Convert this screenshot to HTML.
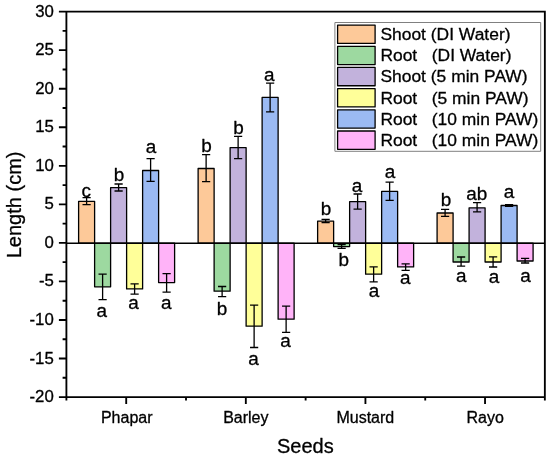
<!DOCTYPE html>
<html><head><meta charset="utf-8"><title>Chart</title>
<style>html,body{margin:0;padding:0;background:#fff}svg{display:block}</style></head>
<body>
<svg width="550" height="459" viewBox="0 0 550 459" font-family="Liberation Sans, sans-serif" fill="#000"><g stroke="#000" stroke-width="0.3" stroke-linejoin="round">
<rect width="550" height="459" fill="#fff" stroke="none"/>
<rect x="78.61" y="201.30" width="16.00" height="41.90" fill="#FDC999" stroke="#000" stroke-width="1.3"/>
<rect x="94.61" y="243.20" width="16.00" height="43.60" fill="#9DD9A0" stroke="#000" stroke-width="1.3"/>
<rect x="110.61" y="187.70" width="16.00" height="55.50" fill="#C2B2DC" stroke="#000" stroke-width="1.3"/>
<rect x="126.61" y="243.20" width="16.00" height="45.70" fill="#FFFF99" stroke="#000" stroke-width="1.3"/>
<rect x="142.61" y="170.50" width="16.00" height="72.70" fill="#9BBAF3" stroke="#000" stroke-width="1.3"/>
<rect x="158.61" y="243.20" width="16.00" height="39.40" fill="#FFB3F8" stroke="#000" stroke-width="1.3"/>
<rect x="198.12" y="168.50" width="16.00" height="74.70" fill="#FDC999" stroke="#000" stroke-width="1.3"/>
<rect x="214.12" y="243.20" width="16.00" height="48.00" fill="#9DD9A0" stroke="#000" stroke-width="1.3"/>
<rect x="230.12" y="147.60" width="16.00" height="95.60" fill="#C2B2DC" stroke="#000" stroke-width="1.3"/>
<rect x="246.12" y="243.20" width="16.00" height="83.00" fill="#FFFF99" stroke="#000" stroke-width="1.3"/>
<rect x="262.12" y="97.40" width="16.00" height="145.80" fill="#9BBAF3" stroke="#000" stroke-width="1.3"/>
<rect x="278.12" y="243.20" width="16.00" height="76.00" fill="#FFB3F8" stroke="#000" stroke-width="1.3"/>
<rect x="317.63" y="221.10" width="16.00" height="22.10" fill="#FDC999" stroke="#000" stroke-width="1.3"/>
<rect x="333.63" y="243.20" width="16.00" height="3.40" fill="#9DD9A0" stroke="#000" stroke-width="1.3"/>
<rect x="349.63" y="201.70" width="16.00" height="41.50" fill="#C2B2DC" stroke="#000" stroke-width="1.3"/>
<rect x="365.63" y="243.20" width="16.00" height="31.00" fill="#FFFF99" stroke="#000" stroke-width="1.3"/>
<rect x="381.63" y="191.40" width="16.00" height="51.80" fill="#9BBAF3" stroke="#000" stroke-width="1.3"/>
<rect x="397.63" y="243.20" width="16.00" height="23.70" fill="#FFB3F8" stroke="#000" stroke-width="1.3"/>
<rect x="437.09" y="213.00" width="16.00" height="30.20" fill="#FDC999" stroke="#000" stroke-width="1.3"/>
<rect x="453.09" y="243.20" width="16.00" height="18.80" fill="#9DD9A0" stroke="#000" stroke-width="1.3"/>
<rect x="469.09" y="207.80" width="16.00" height="35.40" fill="#C2B2DC" stroke="#000" stroke-width="1.3"/>
<rect x="485.09" y="243.20" width="16.00" height="18.80" fill="#FFFF99" stroke="#000" stroke-width="1.3"/>
<rect x="501.09" y="205.50" width="16.00" height="37.70" fill="#9BBAF3" stroke="#000" stroke-width="1.3"/>
<rect x="517.09" y="243.20" width="16.00" height="17.80" fill="#FFB3F8" stroke="#000" stroke-width="1.3"/>
<line x1="66.4" y1="243.2" x2="544.85" y2="243.2" stroke="#000" stroke-width="1.5"/>
<path d="M86.61 197.60V204.60M82.51 197.60H90.71M82.51 204.60H90.71" stroke="#000" stroke-width="1.3" fill="none"/>
<text x="86.2" y="196.6" font-size="18.9" text-anchor="middle">c</text>
<path d="M102.61 274.20V299.60M98.51 274.20H106.71M98.51 299.60H106.71" stroke="#000" stroke-width="1.3" fill="none"/>
<text x="101.8" y="316.9" font-size="18.9" text-anchor="middle">a</text>
<path d="M118.61 184.00V191.00M114.51 184.00H122.71M114.51 191.00H122.71" stroke="#000" stroke-width="1.3" fill="none"/>
<text x="118.9" y="180.9" font-size="18.9" text-anchor="middle">b</text>
<path d="M134.61 283.90V294.10M130.51 283.90H138.71M130.51 294.10H138.71" stroke="#000" stroke-width="1.3" fill="none"/>
<text x="133.5" y="309.4" font-size="18.9" text-anchor="middle">a</text>
<path d="M150.61 158.70V181.30M146.51 158.70H154.71M146.51 181.30H154.71" stroke="#000" stroke-width="1.3" fill="none"/>
<text x="151.0" y="153.4" font-size="18.9" text-anchor="middle">a</text>
<path d="M166.61 273.70V292.20M162.51 273.70H170.71M162.51 292.20H170.71" stroke="#000" stroke-width="1.3" fill="none"/>
<text x="166.2" y="308.7" font-size="18.9" text-anchor="middle">a</text>
<path d="M206.12 154.70V181.60M202.02 154.70H210.22M202.02 181.60H210.22" stroke="#000" stroke-width="1.3" fill="none"/>
<text x="206.6" y="151.9" font-size="18.9" text-anchor="middle">b</text>
<path d="M222.12 286.50V296.70M218.02 286.50H226.22M218.02 296.70H226.22" stroke="#000" stroke-width="1.3" fill="none"/>
<text x="222.1" y="315.0" font-size="18.9" text-anchor="middle">b</text>
<path d="M238.12 136.30V158.70M234.02 136.30H242.22M234.02 158.70H242.22" stroke="#000" stroke-width="1.3" fill="none"/>
<text x="238.6" y="133.5" font-size="18.9" text-anchor="middle">b</text>
<path d="M254.12 305.10V347.50M250.02 305.10H258.22M250.02 347.50H258.22" stroke="#000" stroke-width="1.3" fill="none"/>
<text x="253.5" y="365.0" font-size="18.9" text-anchor="middle">a</text>
<path d="M270.12 83.20V111.80M266.02 83.20H274.22M266.02 111.80H274.22" stroke="#000" stroke-width="1.3" fill="none"/>
<text x="269.2" y="80.8" font-size="18.9" text-anchor="middle">a</text>
<path d="M286.12 306.10V332.30M282.02 306.10H290.22M282.02 332.30H290.22" stroke="#000" stroke-width="1.3" fill="none"/>
<text x="285.4" y="347.0" font-size="18.9" text-anchor="middle">a</text>
<path d="M325.63 219.30V222.60M321.53 219.30H329.73M321.53 222.60H329.73" stroke="#000" stroke-width="1.3" fill="none"/>
<text x="326.1" y="215.3" font-size="18.9" text-anchor="middle">b</text>
<path d="M341.63 244.50V248.40M337.53 244.50H345.73M337.53 248.40H345.73" stroke="#000" stroke-width="1.3" fill="none"/>
<text x="343.8" y="265.7" font-size="18.9" text-anchor="middle">b</text>
<path d="M357.63 194.00V209.10M353.53 194.00H361.73M353.53 209.10H361.73" stroke="#000" stroke-width="1.3" fill="none"/>
<text x="356.9" y="191.5" font-size="18.9" text-anchor="middle">a</text>
<path d="M373.63 266.90V281.80M369.53 266.90H377.73M369.53 281.80H377.73" stroke="#000" stroke-width="1.3" fill="none"/>
<text x="374.0" y="296.5" font-size="18.9" text-anchor="middle">a</text>
<path d="M389.63 182.10V200.30M385.53 182.10H393.73M385.53 200.30H393.73" stroke="#000" stroke-width="1.3" fill="none"/>
<text x="389.9" y="178.0" font-size="18.9" text-anchor="middle">a</text>
<path d="M405.63 263.80V270.30M401.53 263.80H409.73M401.53 270.30H409.73" stroke="#000" stroke-width="1.3" fill="none"/>
<text x="405.2" y="283.9" font-size="18.9" text-anchor="middle">a</text>
<path d="M445.09 209.40V216.30M440.99 209.40H449.19M440.99 216.30H449.19" stroke="#000" stroke-width="1.3" fill="none"/>
<text x="446.0" y="206.0" font-size="18.9" text-anchor="middle">b</text>
<path d="M461.09 257.00V266.20M456.99 257.00H465.19M456.99 266.20H465.19" stroke="#000" stroke-width="1.3" fill="none"/>
<text x="461.3" y="282.1" font-size="18.9" text-anchor="middle">a</text>
<path d="M477.09 202.60V211.90M472.99 202.60H481.19M472.99 211.90H481.19" stroke="#000" stroke-width="1.3" fill="none"/>
<text x="476.7" y="200.2" font-size="18.9" text-anchor="middle">ab</text>
<path d="M493.09 256.80V267.00M488.99 256.80H497.19M488.99 267.00H497.19" stroke="#000" stroke-width="1.3" fill="none"/>
<text x="494.0" y="282.9" font-size="18.9" text-anchor="middle">a</text>
<path d="M509.09 204.70V206.30M504.99 204.70H513.19M504.99 206.30H513.19" stroke="#000" stroke-width="1.3" fill="none"/>
<text x="509.0" y="198.1" font-size="18.9" text-anchor="middle">a</text>
<path d="M525.09 258.30V263.00M520.99 258.30H529.19M520.99 263.00H529.19" stroke="#000" stroke-width="1.3" fill="none"/>
<text x="525.4" y="281.6" font-size="18.9" text-anchor="middle">a</text>
<path d="M66.4 400.45V11.65M58.900000000000006 11.65H544.85M544.85 10.725V400.45M58.900000000000006 397.05H544.85" stroke="#000" stroke-width="1.85" fill="none"/>
<path d="M62.60 30.92H66.4M58.90 50.19H66.4M62.60 69.46H66.4M58.90 88.73H66.4M62.60 108.00H66.4M58.90 127.27H66.4M62.60 146.54H66.4M58.90 165.81H66.4M62.60 185.08H66.4M58.90 204.35H66.4M62.60 223.62H66.4M58.90 242.89H66.4M62.60 262.16H66.4M58.90 281.43H66.4M62.60 300.70H66.4M58.90 319.97H66.4M62.60 339.24H66.4M58.90 358.51H66.4M62.60 377.78H66.4" stroke="#000" stroke-width="1.85" fill="none"/>
<path d="M126.21 397.05V404.05M186.01 397.05V400.45M245.82 397.05V404.05M305.62 397.05V400.45M365.43 397.05V404.05M425.24 397.05V400.45M485.04 397.05V404.05" stroke="#000" stroke-width="1.85" fill="none"/>
<text x="53.8" y="16.65" font-size="16.8" text-anchor="end">30</text>
<text x="53.8" y="55.19" font-size="16.8" text-anchor="end">25</text>
<text x="53.8" y="93.73" font-size="16.8" text-anchor="end">20</text>
<text x="53.8" y="132.27" font-size="16.8" text-anchor="end">15</text>
<text x="53.8" y="170.81" font-size="16.8" text-anchor="end">10</text>
<text x="53.8" y="209.35" font-size="16.8" text-anchor="end">5</text>
<text x="53.8" y="247.89" font-size="16.8" text-anchor="end">0</text>
<text x="53.8" y="286.43" font-size="16.8" text-anchor="end">-5</text>
<text x="53.8" y="324.97" font-size="16.8" text-anchor="end">-10</text>
<text x="53.8" y="363.51" font-size="16.8" text-anchor="end">-15</text>
<text x="53.8" y="402.05" font-size="16.8" text-anchor="end">-20</text>
<text x="126.71" y="422.6" font-size="16" text-anchor="middle">Phapar</text>
<text x="245.82" y="422.6" font-size="16" text-anchor="middle">Barley</text>
<text x="365.33" y="422.6" font-size="16" text-anchor="middle">Mustard</text>
<text x="485.14" y="422.6" font-size="16" text-anchor="middle">Rayo</text>
<text x="305.4" y="453" font-size="20" text-anchor="middle">Seeds</text>
<text transform="translate(21.3 204.9) rotate(-90)" font-size="20" text-anchor="middle">Length (cm)</text>
<rect x="334.9" y="22.5" width="205.8" height="128.8" fill="#fff" stroke="#808080" stroke-width="1"/>
<rect x="337.60" y="25.10" width="37.5" height="18.3" fill="#FDC999" stroke="#000" stroke-width="1.3"/>
<text transform="translate(380.4 40.00) scale(1.008 1)" font-size="17.3" style="white-space:pre" xml:space="preserve">Shoot (DI Water)</text>
<rect x="337.60" y="46.28" width="37.5" height="18.3" fill="#9DD9A0" stroke="#000" stroke-width="1.3"/>
<text transform="translate(380.4 61.18) scale(1.008 1)" font-size="17.3" style="white-space:pre" xml:space="preserve">Root   (DI Water)</text>
<rect x="337.60" y="67.46" width="37.5" height="18.3" fill="#C2B2DC" stroke="#000" stroke-width="1.3"/>
<text transform="translate(380.4 82.36) scale(1.008 1)" font-size="17.3" style="white-space:pre" xml:space="preserve">Shoot (5 min PAW)</text>
<rect x="337.60" y="88.64" width="37.5" height="18.3" fill="#FFFF99" stroke="#000" stroke-width="1.3"/>
<text transform="translate(380.4 103.54) scale(1.008 1)" font-size="17.3" style="white-space:pre" xml:space="preserve">Root   (5 min PAW)</text>
<rect x="337.60" y="109.82" width="37.5" height="18.3" fill="#9BBAF3" stroke="#000" stroke-width="1.3"/>
<text transform="translate(380.4 124.72) scale(1.008 1)" font-size="17.3" style="white-space:pre" xml:space="preserve">Root   (10 min PAW)</text>
<rect x="337.60" y="131.00" width="37.5" height="18.3" fill="#FFB3F8" stroke="#000" stroke-width="1.3"/>
<text transform="translate(380.4 145.90) scale(1.008 1)" font-size="17.3" style="white-space:pre" xml:space="preserve">Root   (10 min PAW)</text>
</g></svg>
</body></html>
